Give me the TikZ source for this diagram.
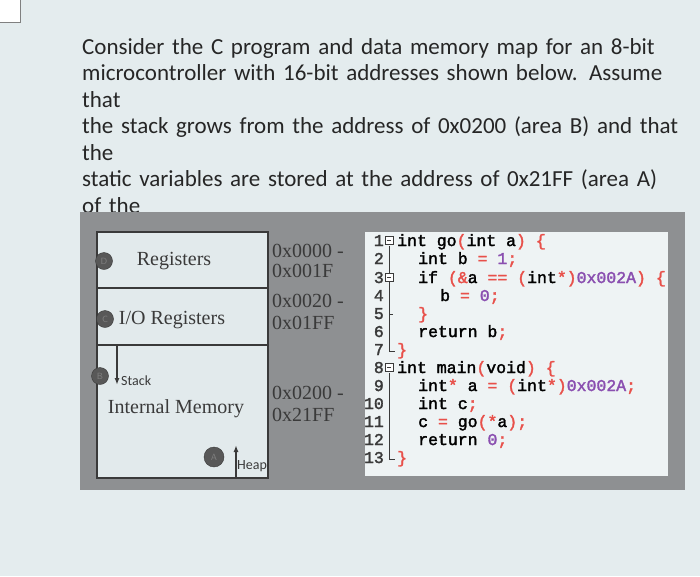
\documentclass[tikz,border=0pt]{standalone}
\usetikzlibrary{arrows.meta}
\usepackage{fontspec}
\setmainfont{Carlito}
\newfontfamily\serifb{Liberation Serif}
\newfontfamily\monob{Liberation Mono}[FakeBold=2]
\definecolor{bg}{HTML}{E4ECEE}
\definecolor{panel}{HTML}{8E9092}
\definecolor{boxf}{HTML}{E2EAEC}
\definecolor{cred}{HTML}{E8504A}
\definecolor{cpur}{HTML}{8A4FB0}
\definecolor{dark}{HTML}{3A3A3A}
\newcommand{\rd}[1]{\textcolor{cred}{#1}}
\newcommand{\pu}[1]{\textcolor{cpur}{#1}}
\begin{document}
\begin{tikzpicture}[x=1pt,y=-1pt,
  memlbl/.style={font=\serifb\fontsize{20}{22}\selectfont,text=dark},
  addr/.style={font=\serifb\fontsize{20}{22}\selectfont,text=dark,anchor=west,inner sep=1pt},
  badge/.style={circle,fill=dark!85,draw=dark,minimum size=17pt,inner sep=0,font=\sffamily\fontsize{9}{9}\selectfont,text=gray},
  codeln/.style={font=\monob\fontsize{16.5}{18}\selectfont,anchor=base west,inner sep=0},
  lnum/.style={font=\monob\fontsize{16.5}{18}\selectfont,anchor=base east,inner sep=0,text=dark},
  memrow/.style={draw=dark,line width=2pt,fill=boxf},
  arr/.style={-{Latex[length=7pt,width=5pt]},line width=1.5pt,draw=dark}]
\useasboundingbox (0,0) rectangle (700,576);
\fill[bg] (0,0) rectangle (700,576);
\draw[gray,fill=white] (-2,-2) rectangle (20,22);
\node[anchor=north west,text width=600pt,align=left,inner sep=0,font=\fontsize{23}{26.5}\selectfont,text=black!85] (para) at (82,38)
 {Consider the C program and data memory map for an 8-bit\\microcontroller with 16-bit addresses shown below. Assume that\\the stack grows from the address of 0x0200 (area B) and that the\\static variables are stored at the address of 0x21FF (area A) of the\\internal memory.};
\fill[panel] (80,212) rectangle (685,490);
% memory map
\draw[memrow] (97,232) rectangle (268,288);
\draw[memrow] (97,288) rectangle (268,345);
\draw[memrow] (97,345) rectangle (268,478);
\node[memlbl] (reg) at (174,261) {Registers};
\node[memlbl] (io) at (172,320) {I/O Registers};
\node[memlbl] (im) at (176,409) {Internal Memory};
\node[badge] (D) at (104,261) {D};
\node[badge] (C) at (105,319) {C};
\node[badge] (B) at (100,376) {B};
\node[badge,minimum size=20pt] (A) at (214,457) {A};
\coordinate (s0) at (117,346);
\coordinate (s1) at (117,385);
\draw[arr] (s0) -- (s1);
\node[font=\fontsize{14}{14}\selectfont,text=dark,anchor=west,inner sep=1] (stk) at (120,381) {Stack};
\coordinate (h0) at (236,477);
\coordinate (h1) at (236,445);
\draw[arr] (h0) -- (h1);
\node[font=\fontsize{14}{14}\selectfont,text=dark,anchor=west,inner sep=1] (heap) at (236,466) {Heap};
\node[addr] (a1) at (271,251) {0x0000 -};
\node[addr] (a2) at (271,271) {0x001F};
\node[addr] (a3) at (271,301) {0x0020 -};
\node[addr] (a4) at (271,323) {0x01FF};
\node[addr] (a5) at (271,393) {0x0200 -};
\node[addr] (a6) at (271,415) {0x21FF};
% code box
\fill[boxf!60!white] (365,232) rectangle (668,476);
\foreach \n/\y in {1/246,2/264,3/283,4/301,5/319,6/337,7/355,8/373,9/391,10/409,11/427,12/445,13/463}
  \node[lnum] (n\n) at (384,\y) {\n};
\draw[dark,line width=0.8pt] (389,246) -- (389,351) -- (395,351);
\draw[dark,line width=0.8pt] (389,314) -- (393,314);
\draw[dark,line width=0.8pt] (389,373) -- (389,459) -- (395,459);
\foreach \y in {240,277,367}{
  \draw[dark,fill=white,line width=0.7pt] (385,\y-4) rectangle (393,\y+4);
  \draw[dark,line width=0.7pt] (387,\y) -- (391,\y);}
\node[codeln] (c1) at (397,246) {int go\rd{(}int a\rd{) \{}};
\node[codeln] (c2) at (418,264) {int b \rd{=} \pu{1}\rd{;}};
\node[codeln] (c3) at (418,283) {if \rd{(\&}a \rd{==} \rd{(}int\rd{*)}\pu{0x002A}\rd{) \{}};
\node[codeln] (c4) at (440,301) {b \rd{=} \pu{0}\rd{;}};
\node[codeln] (c5) at (418,319) {\rd{\}}};
\node[codeln] (c6) at (418,337) {return b\rd{;}};
\node[codeln] (c7) at (397,355) {\rd{\}}};
\node[codeln] (c8) at (397,373) {int main\rd{(}void\rd{) \{}};
\node[codeln] (c9) at (418,391) {int\rd{*} a \rd{=} \rd{(}int\rd{*)}\pu{0x002A}\rd{;}};
\node[codeln] (c10) at (418,409) {int c\rd{;}};
\node[codeln] (c11) at (418,427) {c \rd{=} go\rd{(*}a\rd{);}};
\node[codeln] (c12) at (418,445) {return \pu{0}\rd{;}};
\node[codeln] (c13) at (397,463) {\rd{\}}};
\end{tikzpicture}
\end{document}
